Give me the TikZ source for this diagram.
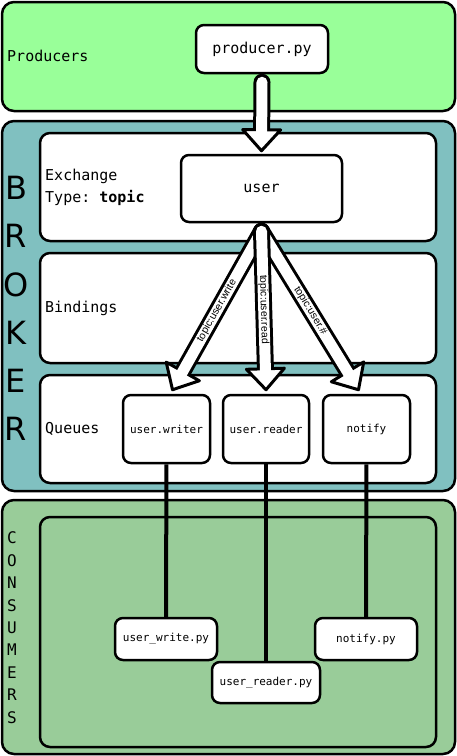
\documentclass[tikz,border=0pt]{standalone}
\usepackage{fontspec}
\usetikzlibrary{calc}
\newfontfamily\codefont{DejaVu Sans Mono}
\newfontfamily\tagfont{Liberation Sans}
\newfontfamily\bigfont{DejaVu Sans}
\definecolor{prodgreen}{HTML}{99FF99}
\definecolor{brokerteal}{HTML}{80C0C0}
\definecolor{consgreen}{HTML}{99CC99}

\tikzset{
  zone/.style={draw, line width=2.5pt, rounded corners=12pt},
  panel/.style={draw, fill=white, line width=2.5pt, rounded corners=10pt},
  pybox/.style={draw, fill=white, line width=2.5pt, rounded corners=8pt, inner sep=0pt,
    font=\codefont\fontsize{15}{18}\selectfont},
  qbox/.style={pybox, font=\codefont\fontsize{11}{13}\selectfont},
  caption/.style={anchor=west, inner sep=0pt, align=left, font=\codefont\fontsize{15}{22}\selectfont},
  pipeout/.style={line width=17pt, line cap=round},
  pipein/.style={white, line width=11pt, line cap=round},
  pipehead/.style={line width=3pt, line join=round, fill=white},
  feed/.style={line width=4pt},
  bindtag/.style={sloped, inner sep=0pt, black, font=\tagfont\fontsize{10.5}{12}\selectfont},
}
% fat arrow from #1 to #2, label #3 along it
\newcommand\pipearrow[3]{%
	\coordinate (pb) at ($(#2)!21pt!(#1)$);
	\draw [pipeout](#1)--(pb);
	\draw [pipehead]($(pb)!19pt!90:(#2)$)--(#2)--($(pb)!19pt!-90:(#2)$)--cycle;
	\draw [pipein](#1)--node[bindtag, pos=0.56]{#3}($(pb)!2pt!(#2)$);
}

\begin{document}
\begin{tikzpicture}[x=1pt, y=-1pt]
	\useasboundingbox (0,0) rectangle (457,756);
	% zones
	\draw [zone, fill=prodgreen](2,2)rectangle(455,111);
	\draw [zone, fill=brokerteal](2,121)rectangle(455,491);
	\draw [zone, fill=consgreen](2,500)rectangle(455,754);
	\draw [panel](40,133)rectangle(436,241);
	\draw [panel](40,253)rectangle(436,363);
	\draw [panel](40,375)rectangle(436,483);
	\draw [panel, fill=consgreen](40,517)rectangle(436,747);
	% captions
	\node [caption] (prodcap) at (7,56) {Producers};
	\node [caption] (exchcap) at (45,187) {Exchange\\Type:~\textbf{topic}};
	\node [caption] (bindcap) at (45,308) {Bindings};
	\node [caption] (queuecap) at (45,429) {Queues};
	\foreach \ch [count=\i from 0] in {B,R,O,K,E,R}
		\node [font=\bigfont\fontsize{32}{32}\selectfont] (brk\i) at (16,188+48.2*\i) {\ch};
	\foreach \ch [count=\i from 0] in {C,O,N,S,U,M,E,R,S}
		\node [font=\codefont\fontsize{16}{16}\selectfont] (cons\i) at (12,538+22.4*\i) {\ch};
	% boxes
	\node [pybox, minimum width=132pt, minimum height=48pt] (producer) at (262,49) {producer.py};
	\node [pybox, minimum width=161pt, minimum height=67pt] (user) at (261.5,188.5) {user};
	\node [qbox, minimum width=87pt, minimum height=68pt] (writer) at (166.5,429) {user.writer};
	\node [qbox, minimum width=86pt, minimum height=68pt] (reader) at (266,429) {user.reader};
	\node [qbox, minimum width=87pt, minimum height=68pt] (notify) at (366.5,429) {notify};
	\node [qbox, minimum width=102pt, minimum height=42pt] (uwrite) at (166,639) {user\_write.py};
	\node [qbox, minimum width=108pt, minimum height=41pt] (uread) at (266,682.5) {user\_reader.py};
	\node [qbox, minimum width=102pt, minimum height=42pt] (unotify) at (366,639) {notify.py};
	% arrows
	\coordinate (prodtail) at ($(producer.south)+(0,8)$);
	\coordinate (usertip) at ($(user.north)+(0,-3)$);
	\coordinate (fan) at ($(user.south)+(0,8)$);
	\coordinate (writetip) at ($(writer.north)+(6,-4)$);
	\coordinate (readtip) at ($(reader.north)+(0,-4)$);
	\coordinate (notifytip) at ($(notify.north)+(-8,-4)$);
	\pipearrow{prodtail}{usertip}{}
	\pipearrow{fan}{writetip}{topic:user.write}
	\pipearrow{fan}{notifytip}{topic:user.\#}
	\pipearrow{fan}{readtip}{topic:user.read}
	\draw [feed](writer)--(uwrite);
	\draw [feed](reader)--(uread);
	\draw [feed](notify)--(unotify);
\end{tikzpicture}
\end{document}
